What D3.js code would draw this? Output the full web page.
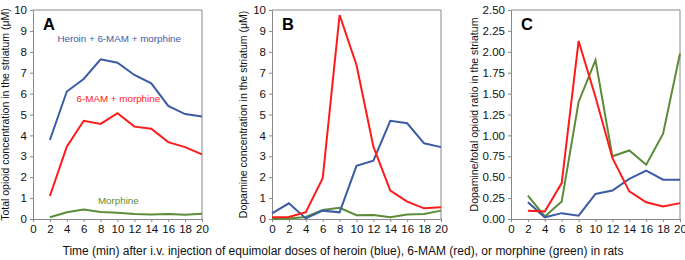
<!DOCTYPE html>
<html>
<head>
<meta charset="utf-8">
<script src="https://cdn.jsdelivr.net/npm/d3@7"></script>
<style>
  body { margin: 0; background: #fff; }
  svg { font-family: "Liberation Sans", Arial, sans-serif; }
  .axis path, .axis line { stroke: #888; }
  .axis text { fill: #111; font-size: 11.5px; }
</style>
</head>
<body>
<div id="graph"></div>
<script>
// time points (min)
var timeA = [2, 4, 6, 8, 10, 12, 14, 16, 18, 20]
var timeB = [0, 2, 4, 6, 8, 10, 12, 14, 16, 18, 20]
var xTicks = [0, 2, 4, 6, 8, 10, 12, 14, 16, 18, 20]

// A: total opioid (uM)
var heroinA   = [3.78, 6.1, 6.7, 7.64, 7.48, 6.89, 6.49, 5.41, 5.02, 4.9]
var mamA      = [1.1, 3.46, 4.7, 4.55, 5.06, 4.42, 4.32, 3.68, 3.44, 3.09]
var morphineA = [0.08, 0.32, 0.45, 0.33, 0.3, 0.24, 0.22, 0.24, 0.2, 0.25]

// B: dopamine (uM)
var heroinB   = [0.27, 0.75, 0.03, 0.4, 0.32, 2.54, 2.79, 4.7, 4.58, 3.62, 3.44]
var mamB      = [0.08, 0.1, 0.33, 1.95, 9.76, 7.37, 3.46, 1.36, 0.83, 0.51, 0.56]
var morphineB = [0, 0.02, 0.1, 0.43, 0.54, 0.18, 0.19, 0.08, 0.22, 0.24, 0.4]

// C: dopamine / total opioid ratio
var heroinC   = [0.2, 0.02, 0.07, 0.04, 0.3, 0.34, 0.48, 0.58, 0.47, 0.47]
var mamC      = [0.1, 0.09, 0.43, 2.13, 1.46, 0.73, 0.33, 0.2, 0.15, 0.19]
var morphineC = [0.28, 0.03, 0.21, 1.4, 1.9, 0.75, 0.82, 0.65, 1.02, 1.98]

var colors = {heroin: '#3b5ba5', mam: '#ff1a1a', morphine: '#5c8c38'}

var svg = d3.select('#graph').append('svg')
  .attr('width', 685).attr('height', 260)

var plotTop = 10, plotBottom = 219

var panels = [
  {letter: 'A', left: 33, right: 202, yMax: 10, yTicks: d3.range(0, 11), fmt: d3.format('d'),
   times: timeA, series: [heroinA, mamA, morphineA],
   title: 'Total opioid concentration in the striatum (\u03bcM)', titleX: 9},
  {letter: 'B', left: 272, right: 441, yMax: 10, yTicks: d3.range(0, 11), fmt: d3.format('d'),
   times: timeB, series: [heroinB, mamB, morphineB],
   title: 'Dopamine concentration in the striatum (\u03bcM)', titleX: 247},
  {letter: 'C', left: 511, right: 680, yMax: 2.5, yTicks: d3.range(0, 2.51, 0.25), fmt: d3.format('.2f'),
   times: timeA, series: [heroinC, mamC, morphineC],
   title: 'Dopamine/total opioid ratio in the striatum', titleX: 478}
]

panels.forEach(drawPanel)

function drawPanel(p){
  var x = d3.scaleLinear().domain([0, 20]).range([p.left, p.right])
  var y = d3.scaleLinear().domain([0, p.yMax]).range([plotBottom, plotTop])

  var g = svg.append('g')

  // frame top + right
  g.append('path')
    .attr('d', 'M' + p.left + ',' + plotTop + 'H' + p.right + 'V' + plotBottom)
    .attr('fill', 'none').attr('stroke', '#888')

  g.append('g').attr('class', 'axis')
    .attr('transform', 'translate(0,' + plotBottom + ')')
    .call(d3.axisBottom(x).tickValues(xTicks).tickSize(3).tickSizeOuter(0).tickPadding(3))

  g.append('g').attr('class', 'axis')
    .attr('transform', 'translate(' + p.left + ',0)')
    .call(d3.axisLeft(y).tickValues(p.yTicks).tickFormat(p.fmt).tickSize(3).tickSizeOuter(0).tickPadding(3))

  var line = d3.line()
    .x((d, i) => x(p.times[i]))
    .y(d => y(d))

  var keys = ['heroin', 'mam', 'morphine']
  // green first, then blue, red on top
  ;[2, 0, 1].forEach(k => {
    g.append('path')
      .attr('d', line(p.series[k]))
      .attr('fill', 'none')
      .attr('stroke', colors[keys[k]])
      .attr('stroke-width', 2)
  })

  g.append('text')
    .text(p.letter)
    .attr('x', p.left + 10).attr('y', 30)
    .attr('font-size', 16.5).attr('font-weight', 'bold').attr('fill', '#000')

  g.append('text')
    .text(p.title)
    .attr('transform', 'translate(' + p.titleX + ',' + (plotTop + plotBottom) / 2 + ') rotate(-90)')
    .attr('text-anchor', 'middle')
    .attr('font-size', 10.5).attr('fill', '#111')
}

// annotations in panel A
var xA = d3.scaleLinear().domain([0, 20]).range([33, 202])
var yA = d3.scaleLinear().domain([0, 10]).range([plotBottom, plotTop])
var notes = [
  {text: 'Heroin + 6-MAM + morphine', t: 10.2, v: 8.45, color: colors.heroin},
  {text: '6-MAM + morphine', t: 10.1, v: 5.6, color: colors.mam},
  {text: 'Morphine', t: 10.1, v: 0.7, color: colors.morphine}
]
svg.selectAll('text.note').data(notes).enter().append('text')
  .attr('class', 'note')
  .text(d => d.text)
  .attr('x', d => xA(d.t)).attr('y', d => yA(d.v))
  .attr('text-anchor', 'middle')
  .attr('font-size', 9.8)
  .attr('fill', d => d.color)

svg.append('text')
  .text('Time (min) after i.v. injection of equimolar doses of heroin (blue), 6-MAM (red), or morphine (green) in rats')
  .attr('x', 343).attr('y', 255)
  .attr('text-anchor', 'middle')
  .attr('font-size', 12).attr('fill', '#111')
</script>
</body>
</html>
